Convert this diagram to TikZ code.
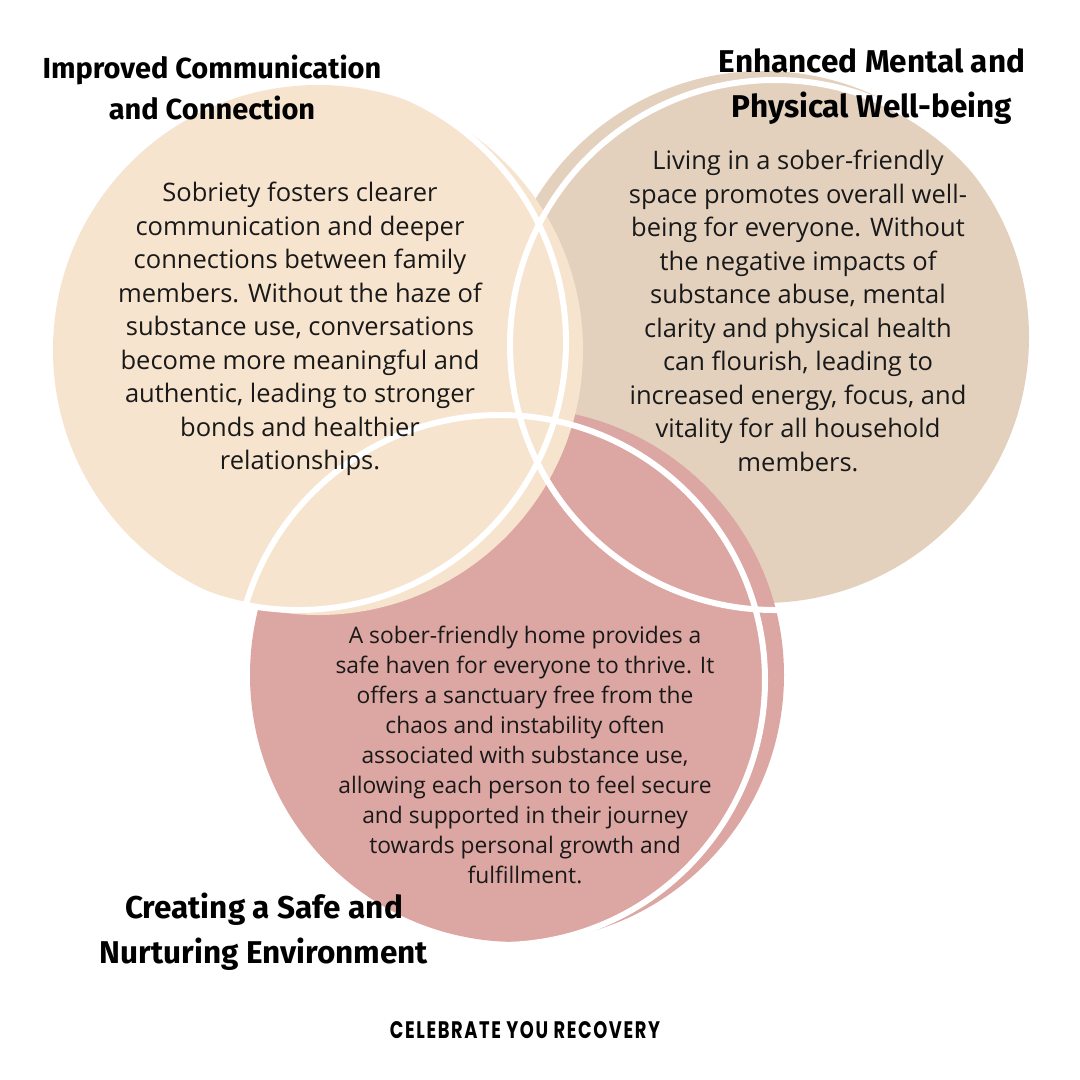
\documentclass[tikz,border=0pt]{standalone}
\usepackage{fontspec}
\setmainfont{Open Sans}
\newfontfamily\titlefont{Fira Sans}
\newfontfamily\footfont{Poppins}[LetterSpace=9]
\definecolor{creamc}{RGB}{247,228,206}
\definecolor{beigec}{RGB}{227,209,190}
\definecolor{pinkc}{RGB}{220,166,162}
\tikzset{
  ring/.style={draw=white, line width=6pt},
  bodytext/.style={align=center, inner sep=0pt, text=black!90, font=\fontsize{25.5}{33.5}\selectfont},
  bodysmall/.style={align=center, inner sep=0pt, text=black!90, font=\fontsize{22.8}{30}\selectfont},
  titletext/.style={align=center, inner sep=0pt, text=black, font=\titlefont\bfseries\fontsize{29}{41}\selectfont},
  bigtitle/.style={titletext, font=\titlefont\bfseries\fontsize{31.5}{45}\selectfont},
}
\begin{document}
\begin{tikzpicture}[x=1pt,y=-1pt]
\useasboundingbox (0,0) rectangle (1080,1080);
\fill[white] (0,0) rectangle (1080,1080);
% filled circles
\fill[beigec] (763,337) circle[radius=266];
\fill[pinkc] (517,675) circle[radius=267];
\fill[creamc] (318,350) circle[radius=265];
% white rings
\draw[ring] (298,342) circle[radius=268];
\draw[ring] (775,345) circle[radius=265];
\draw[ring] (500,680) circle[radius=265];
% titles
\node[titletext] (t1) at (212,87) {Improved Communication\\and Connection};
\node[bigtitle] (t2) at (872,87) {Enhanced Mental and\\Physical Well-being};
\node[bigtitle] (t3) at (264,932) {Creating a Safe and\\Nurturing Environment};
% body texts
\node[bodytext] (b1) at (300,329) {Sobriety fosters clearer\\communication and deeper\\connections between family\\members. Without the haze of\\substance use, conversations\\become more meaningful and\\authentic, leading to stronger\\bonds and healthier\\relationships.};
\node[bodytext] (b2) at (798,311) {Living in a sober-friendly\\space promotes overall well-\\being for everyone. Without\\the negative impacts of\\substance abuse, mental\\clarity and physical health\\can flourish, leading to\\increased energy, focus, and\\vitality for all household\\members.};
\node[bodysmall] (b3) at (525,755) {A sober-friendly home provides a\\safe haven for everyone to thrive. It\\offers a sanctuary free from the\\chaos and instability often\\associated with substance use,\\allowing each person to feel secure\\and supported in their journey\\towards personal growth and\\fulfillment.};
% footer
\node[inner sep=0pt] (foot) at (525,1030) {\resizebox{270pt}{17pt}{\footfont\bfseries\fontsize{22}{26}\selectfont CELEBRATE YOU RECOVERY}};
\end{tikzpicture}
\end{document}
